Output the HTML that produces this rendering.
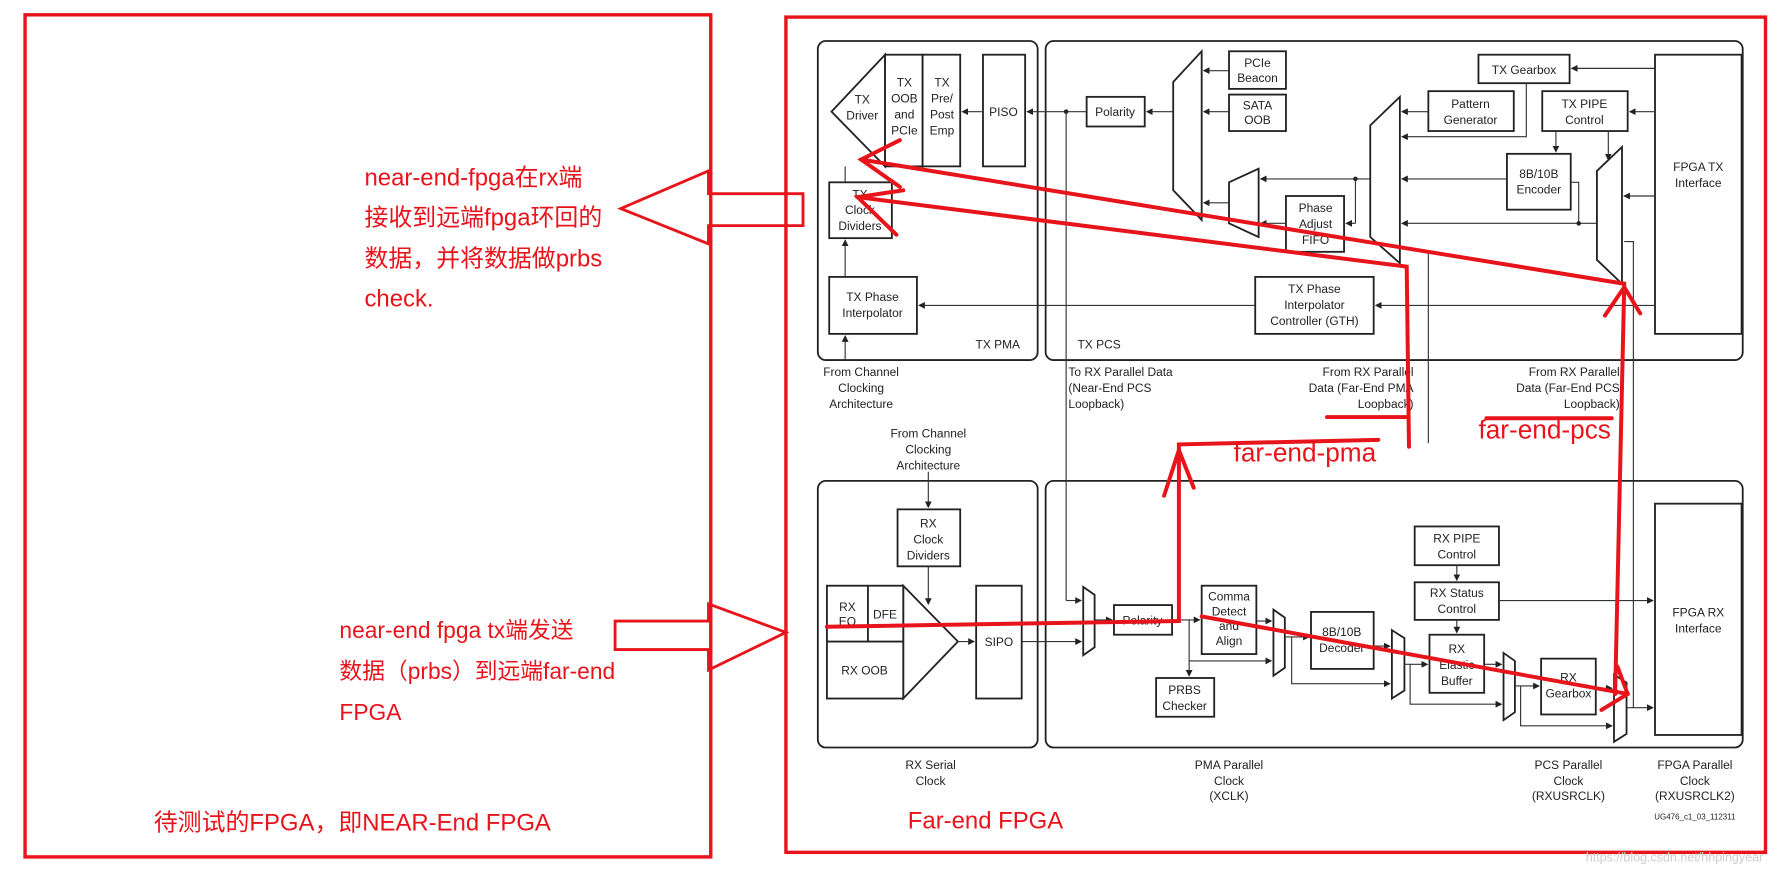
<!DOCTYPE html>
<html><head><meta charset="utf-8"><style>
html,body{margin:0;padding:0;background:#fff;}
svg{display:block;}
.b{fill:#fff;stroke:#222;stroke-width:1.6;}
.l{stroke:#333;stroke-width:1;fill:none;}
.t{font-family:"Liberation Sans",Arial,sans-serif;font-size:10.5px;fill:#222;}
.r{font-family:"Liberation Sans","Noto Sans CJK SC",sans-serif;fill:#e8141b;}
.rl{stroke:#e8141b;stroke-width:3.5;fill:none;stroke-linecap:round;}
</style></head><body>
<svg width="1786" height="874" viewBox="0 0 1568 767" preserveAspectRatio="none" xmlns="http://www.w3.org/2000/svg">
<defs><marker id="a" markerWidth="6" markerHeight="6" refX="5" refY="3" orient="auto" markerUnits="userSpaceOnUse"><path d="M0,0 L6,3 L0,6z" fill="#222"/></marker></defs>
<rect width="1568" height="767" fill="#fff"/>
<rect x="22" y="13" width="602" height="739" fill="none" stroke="#e8141b" stroke-width="3"/>
<rect x="690" y="15" width="860" height="733" fill="none" stroke="#e8141b" stroke-width="3"/>
<rect x="718" y="36" width="193" height="280" rx="7" class="b"/>
<rect x="918" y="36" width="612" height="280" rx="7" class="b"/>
<rect x="718" y="422" width="193" height="234" rx="7" class="b"/>
<rect x="918" y="422" width="612" height="234" rx="7" class="b"/>
<polygon points="777,48 730,98 777,146" class="b"/>
<rect x="777" y="48" width="33" height="98" class="b"/>
<rect x="810" y="48" width="33" height="98" class="b"/>
<rect x="863" y="48" width="37" height="98" class="b"/>
<text class="t" x="757" y="91" text-anchor="middle">TX</text><text class="t" x="757" y="105" text-anchor="middle">Driver</text>
<text class="t" x="794" y="76" text-anchor="middle">TX</text><text class="t" x="794" y="90" text-anchor="middle">OOB</text><text class="t" x="794" y="104" text-anchor="middle">and</text><text class="t" x="794" y="118" text-anchor="middle">PCIe</text>
<text class="t" x="827" y="76" text-anchor="middle">TX</text><text class="t" x="827" y="90" text-anchor="middle">Pre/</text><text class="t" x="827" y="104" text-anchor="middle">Post</text><text class="t" x="827" y="118" text-anchor="middle">Emp</text>
<text class="t" x="881" y="102" text-anchor="middle">PISO</text>
<rect x="728" y="160" width="55" height="49" class="b"/>
<text class="t" x="755" y="174" text-anchor="middle">TX</text><text class="t" x="755" y="188" text-anchor="middle">Clock</text><text class="t" x="755" y="202" text-anchor="middle">Dividers</text>
<rect x="728" y="243" width="77" height="50" class="b"/>
<text class="t" x="766" y="264" text-anchor="middle">TX Phase</text><text class="t" x="766" y="278" text-anchor="middle">Interpolator</text>
<text class="t" x="876" y="306" text-anchor="middle">TX PMA</text>
<line class="l" x1="862" y1="98" x2="845" y2="98" marker-end="url(#a)"/>
<line class="l" x1="742" y1="243" x2="742" y2="211" marker-end="url(#a)"/>
<line class="l" x1="742" y1="160" x2="742" y2="146"/>
<line class="l" x1="742" y1="316" x2="742" y2="295" marker-end="url(#a)"/>
<rect x="954" y="85" width="51" height="26" class="b"/><text class="t" x="979" y="102" text-anchor="middle">Polarity</text>
<line class="l" x1="954" y1="98" x2="902" y2="98" marker-end="url(#a)"/><circle cx="936" cy="98" r="2" fill="#222"/>
<polygon points="1030,72 1055,45 1055,193 1030,167" class="b"/>
<line class="l" x1="1030" y1="98" x2="1007" y2="98" marker-end="url(#a)"/>
<rect x="1079" y="45" width="50" height="33" class="b"/><text class="t" x="1104" y="59" text-anchor="middle">PCIe</text><text class="t" x="1104" y="72" text-anchor="middle">Beacon</text>
<rect x="1079" y="83" width="50" height="32" class="b"/><text class="t" x="1104" y="96" text-anchor="middle">SATA</text><text class="t" x="1104" y="109" text-anchor="middle">OOB</text>
<line class="l" x1="1079" y1="62" x2="1057" y2="62" marker-end="url(#a)"/>
<line class="l" x1="1079" y1="98" x2="1057" y2="98" marker-end="url(#a)"/>
<polygon points="1079,160 1105,148 1105,208 1079,196" class="b"/>
<line class="l" x1="1079" y1="178" x2="1057" y2="178" marker-end="url(#a)"/>
<rect x="1129" y="172" width="51" height="49" class="b"/><text class="t" x="1155" y="186" text-anchor="middle">Phase</text><text class="t" x="1155" y="200" text-anchor="middle">Adjust</text><text class="t" x="1155" y="214" text-anchor="middle">FIFO</text>
<line class="l" x1="1203" y1="157" x2="1107" y2="157" marker-end="url(#a)"/><circle cx="1190" cy="157" r="2" fill="#222"/>
<line class="l" x1="1190" y1="157" x2="1190" y2="196"/><line class="l" x1="1190" y1="196" x2="1182" y2="196" marker-end="url(#a)"/>
<line class="l" x1="1129" y1="196" x2="1107" y2="196" marker-end="url(#a)"/>
<polygon points="1203,110 1229,85 1229,231 1203,208" class="b"/>
<rect x="1254" y="80" width="75" height="35" class="b"/><text class="t" x="1291" y="95" text-anchor="middle">Pattern</text><text class="t" x="1291" y="109" text-anchor="middle">Generator</text>
<line class="l" x1="1254" y1="98" x2="1231" y2="98" marker-end="url(#a)"/>
<rect x="1298" y="48" width="80" height="25" class="b"/><text class="t" x="1338" y="65" text-anchor="middle">TX Gearbox</text>
<polyline class="l" points="1340,73 1340,120 1231,120" marker-end="url(#a)"/>
<rect x="1354" y="80" width="75" height="35" class="b"/><text class="t" x="1391" y="95" text-anchor="middle">TX PIPE</text><text class="t" x="1391" y="109" text-anchor="middle">Control</text>
<rect x="1323" y="135" width="56" height="49" class="b"/><text class="t" x="1351" y="156" text-anchor="middle">8B/10B</text><text class="t" x="1351" y="170" text-anchor="middle">Encoder</text>
<line class="l" x1="1366" y1="115" x2="1366" y2="133" marker-end="url(#a)"/>
<line class="l" x1="1412" y1="115" x2="1412" y2="140" marker-end="url(#a)"/>
<line class="l" x1="1323" y1="157" x2="1231" y2="157" marker-end="url(#a)"/>
<polygon points="1402,150 1424,129 1424,249 1402,228" class="b"/>
<line class="l" x1="1402" y1="196" x2="1231" y2="196" marker-end="url(#a)"/>
<polyline class="l" points="1379,160 1386,160 1386,196"/><circle cx="1386" cy="196" r="2" fill="#222"/>
<rect x="1453" y="48" width="76" height="245" class="b"/><text class="t" x="1491" y="150" text-anchor="middle">FPGA TX</text><text class="t" x="1491" y="164" text-anchor="middle">Interface</text>
<line class="l" x1="1453" y1="60" x2="1380" y2="60" marker-end="url(#a)"/>
<line class="l" x1="1453" y1="98" x2="1431" y2="98" marker-end="url(#a)"/>
<line class="l" x1="1453" y1="172" x2="1426" y2="172" marker-end="url(#a)"/>
<polyline class="l" points="1434,621 1434,212 1426,212"/>
<rect x="1102" y="243" width="104" height="50" class="b"/><text class="t" x="1154" y="257" text-anchor="middle">TX Phase</text><text class="t" x="1154" y="271" text-anchor="middle">Interpolator</text><text class="t" x="1154" y="285" text-anchor="middle">Controller (GTH)</text>
<line class="l" x1="1453" y1="268" x2="1208" y2="268" marker-end="url(#a)"/>
<line class="l" x1="1102" y1="268" x2="807" y2="268" marker-end="url(#a)"/>
<text class="t" x="946" y="306">TX PCS</text>
<line class="l" x1="936" y1="98" x2="936" y2="527"/>
<line class="l" x1="1254" y1="220" x2="1254" y2="389"/>
<text class="t" x="756" y="330" text-anchor="middle">From Channel</text><text class="t" x="756" y="344" text-anchor="middle">Clocking</text><text class="t" x="756" y="358" text-anchor="middle">Architecture</text>
<text class="t" x="938" y="330">To RX Parallel Data</text><text class="t" x="938" y="344">(Near-End PCS</text><text class="t" x="938" y="358">Loopback)</text>
<text class="t" x="1241" y="330" text-anchor="end">From RX Parallel</text><text class="t" x="1241" y="344" text-anchor="end">Data (Far-End PMA</text><text class="t" x="1241" y="358" text-anchor="end">Loopback)</text>
<text class="t" x="1422" y="330" text-anchor="end">From RX Parallel</text><text class="t" x="1422" y="344" text-anchor="end">Data (Far-End PCS</text><text class="t" x="1422" y="358" text-anchor="end">Loopback)</text>
<text class="t" x="815" y="384" text-anchor="middle">From Channel</text><text class="t" x="815" y="398" text-anchor="middle">Clocking</text><text class="t" x="815" y="412" text-anchor="middle">Architecture</text>
<line class="l" x1="815" y1="414" x2="815" y2="445" marker-end="url(#a)"/>
<rect x="788" y="447" width="55" height="50" class="b"/><text class="t" x="815" y="463" text-anchor="middle">RX</text><text class="t" x="815" y="477" text-anchor="middle">Clock</text><text class="t" x="815" y="491" text-anchor="middle">Dividers</text>
<line class="l" x1="815" y1="497" x2="815" y2="530" marker-end="url(#a)"/>
<polygon points="793,514 841,563 793,613" class="b"/>
<rect x="726" y="514" width="67" height="99" class="b"/>
<line class="l" x1="762" y1="514" x2="762" y2="563" style="stroke-width:1.6;stroke:#222"/>
<line class="l" x1="726" y1="563" x2="793" y2="563" style="stroke-width:1.6;stroke:#222"/>
<text class="t" x="744" y="536" text-anchor="middle">RX</text><text class="t" x="744" y="549" text-anchor="middle">EQ</text>
<text class="t" x="777" y="543" text-anchor="middle">DFE</text>
<text class="t" x="759" y="592" text-anchor="middle">RX OOB</text>
<rect x="857" y="514" width="40" height="99" class="b"/><text class="t" x="877" y="567" text-anchor="middle">SIPO</text>
<line class="l" x1="841" y1="563" x2="855" y2="563" marker-end="url(#a)"/>
<line class="l" x1="897" y1="563" x2="949" y2="563" marker-end="url(#a)"/>
<line class="l" x1="936" y1="527" x2="949" y2="527" marker-end="url(#a)"/>
<text class="t" x="817" y="675" text-anchor="middle">RX Serial</text><text class="t" x="817" y="689" text-anchor="middle">Clock</text>
<polygon points="951,515 961,522 961,568 951,575" class="b"/>
<rect x="978" y="531" width="51" height="26" class="b"/><text class="t" x="1003" y="548" text-anchor="middle">Polarity</text>
<line class="l" x1="961" y1="544" x2="976" y2="544" marker-end="url(#a)"/>
<line class="l" x1="1029" y1="544" x2="1053" y2="544" marker-end="url(#a)"/>
<rect x="1055" y="514" width="48" height="60" class="b"/><text class="t" x="1079" y="527" text-anchor="middle">Comma</text><text class="t" x="1079" y="540" text-anchor="middle">Detect</text><text class="t" x="1079" y="553" text-anchor="middle">and</text><text class="t" x="1079" y="566" text-anchor="middle">Align</text>
<line class="l" x1="1044" y1="544" x2="1044" y2="593" marker-end="url(#a)"/>
<line class="l" x1="1044" y1="580" x2="1116" y2="580" marker-end="url(#a)"/>
<rect x="1015" y="595" width="51" height="34" class="b"/><text class="t" x="1040" y="609" text-anchor="middle">PRBS</text><text class="t" x="1040" y="623" text-anchor="middle">Checker</text>
<line class="l" x1="1103" y1="545" x2="1116" y2="545" marker-end="url(#a)"/>
<polygon points="1118,535 1128,542 1128,586 1118,593" class="b"/>
<line class="l" x1="1128" y1="559" x2="1149" y2="559" marker-end="url(#a)"/>
<polyline class="l" points="1134,559 1134,600 1220,600" marker-end="url(#a)"/>
<rect x="1151" y="537" width="55" height="50" class="b"/><text class="t" x="1178" y="558" text-anchor="middle">8B/10B</text><text class="t" x="1178" y="572" text-anchor="middle">Decoder</text>
<line class="l" x1="1206" y1="567" x2="1220" y2="567" marker-end="url(#a)"/>
<polygon points="1222,553 1233,560 1233,606 1222,613" class="b"/>
<line class="l" x1="1233" y1="583" x2="1253" y2="583" marker-end="url(#a)"/>
<polyline class="l" points="1238,583 1238,618 1318,618" marker-end="url(#a)"/>
<rect x="1242" y="462" width="74" height="34" class="b"/><text class="t" x="1279" y="476" text-anchor="middle">RX PIPE</text><text class="t" x="1279" y="490" text-anchor="middle">Control</text>
<line class="l" x1="1279" y1="496" x2="1279" y2="509" marker-end="url(#a)"/>
<rect x="1242" y="511" width="74" height="33" class="b"/><text class="t" x="1279" y="524" text-anchor="middle">RX Status</text><text class="t" x="1279" y="538" text-anchor="middle">Control</text>
<line class="l" x1="1279" y1="544" x2="1279" y2="555" marker-end="url(#a)"/>
<line class="l" x1="1316" y1="527" x2="1451" y2="527" marker-end="url(#a)"/>
<rect x="1255" y="557" width="48" height="51" class="b"/><text class="t" x="1279" y="573" text-anchor="middle">RX</text><text class="t" x="1279" y="587" text-anchor="middle">Elastic</text><text class="t" x="1279" y="601" text-anchor="middle">Buffer</text>
<line class="l" x1="1303" y1="583" x2="1318" y2="583" marker-end="url(#a)"/>
<polygon points="1320,573 1330,580 1330,625 1320,632" class="b"/>
<line class="l" x1="1330" y1="602" x2="1351" y2="602" marker-end="url(#a)"/>
<polyline class="l" points="1335,602 1335,637 1415,637" marker-end="url(#a)"/>
<rect x="1353" y="578" width="48" height="49" class="b"/><text class="t" x="1377" y="598" text-anchor="middle">RX</text><text class="t" x="1377" y="612" text-anchor="middle">Gearbox</text>
<line class="l" x1="1401" y1="604" x2="1415" y2="604" marker-end="url(#a)"/>
<polygon points="1417,592 1428,599 1428,644 1417,651" class="b"/>
<line class="l" x1="1428" y1="621" x2="1451" y2="621" marker-end="url(#a)"/>
<rect x="1453" y="442" width="76" height="203" class="b"/><text class="t" x="1491" y="541" text-anchor="middle">FPGA RX</text><text class="t" x="1491" y="555" text-anchor="middle">Interface</text>
<text class="t" x="1079" y="675" text-anchor="middle">PMA Parallel</text><text class="t" x="1079" y="689" text-anchor="middle">Clock</text><text class="t" x="1079" y="702" text-anchor="middle">(XCLK)</text>
<text class="t" x="1377" y="675" text-anchor="middle">PCS Parallel</text><text class="t" x="1377" y="689" text-anchor="middle">Clock</text><text class="t" x="1377" y="702" text-anchor="middle">(RXUSRCLK)</text>
<text class="t" x="1488" y="675" text-anchor="middle">FPGA Parallel</text><text class="t" x="1488" y="689" text-anchor="middle">Clock</text><text class="t" x="1488" y="702" text-anchor="middle">(RXUSRCLK2)</text>
<text class="t" x="1488" y="719" text-anchor="middle" style="font-size:7px">UG476_c1_03_112311</text>
<text x="1548" y="756" text-anchor="end" style="font-family:'Liberation Sans',sans-serif;font-size:11px;fill:#ccc">https://blog.csdn.net/hhpingyear</text>
<polyline class="rl" points="726,550 1035,545 1035,390 1210,386"/>
<polyline class="rl" points="1022,435 1035,395 1048,428"/>
<line class="rl" x1="1165" y1="366" x2="1235" y2="366"/>
<polyline class="rl" points="1237,392 1235,234 753,173"/>
<polyline class="rl" points="793,167 753,173 787,206"/>
<polyline class="rl" points="1418,609 1426,249 756,140"/>
<polyline class="rl" points="790,123 756,140 790,164"/>
<polyline class="rl" points="1409,277 1426,252 1440,275"/>
<line class="rl" x1="1305" y1="367" x2="1415" y2="367"/>
<line class="rl" x1="1055" y1="541" x2="1429" y2="609"/>
<polyline class="rl" points="1420,585 1429,609 1406,623"/>
<text class="r" x="1083" y="405" style="font-size:23px">far-end-pma</text>
<text class="r" x="1298" y="385" style="font-size:23px">far-end-pcs</text>
<text class="r" x="797" y="727" style="font-size:21px">Far-end FPGA</text>
<polygon points="705,170 622,170 622,150 545,183 622,214 622,198 705,198" fill="none" stroke="#e8141b" stroke-width="2.5"/>
<polygon points="540,545 622,545 622,530 690,555 622,588 622,570 540,570" fill="none" stroke="#e8141b" stroke-width="2.5"/>
<text class="r" x="320" y="163" style="font-size:21px">near-end-fpga在rx端</text>
<text class="r" x="320" y="198" style="font-size:21px">接收到远端fpga环回的</text>
<text class="r" x="320" y="234" style="font-size:21px">数据，并将数据做prbs</text>
<text class="r" x="320" y="269" style="font-size:21px">check.</text>
<text class="r" x="298" y="560" style="font-size:20px">near-end fpga tx端发送</text>
<text class="r" x="298" y="596" style="font-size:20px">数据（prbs）到远端far-end</text>
<text class="r" x="298" y="632" style="font-size:20px">FPGA</text>
<text class="r" x="135" y="729" style="font-size:21px">待测试的FPGA，即NEAR-End FPGA</text>
</svg>
</body></html>
